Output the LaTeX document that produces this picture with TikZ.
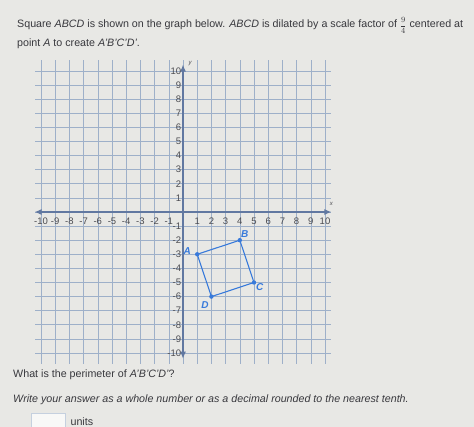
\documentclass[tikz,border=0pt]{standalone}
\usepackage{fontspec}
\setmainfont{Liberation Sans}
\usepackage{tikz}
\usetikzlibrary{arrows.meta}
\tikzset{>={Latex[length=7pt,width=6pt]}}
\definecolor{paper}{rgb}{0.91,0.91,0.90}
\definecolor{gridblue}{rgb}{0.62,0.69,0.79}
\definecolor{axisblue}{rgb}{0.38,0.47,0.63}
\definecolor{shapeblue}{rgb}{0.22,0.48,0.86}
\definecolor{ink}{rgb}{0.22,0.22,0.24}
\tikzset{
  txt/.style={anchor=base west,inner sep=0pt,text=ink,font=\fontsize{10.7}{12}\selectfont},
  tick/.style={inner sep=0pt,text=ink!90,font=\fontsize{9.5}{11}\selectfont},
  vlabel/.style={inner sep=0pt,text=shapeblue,font=\fontsize{10}{12}\selectfont\bfseries\itshape}
}

\begin{document}
\begin{tikzpicture}[x=1pt,y=-1pt]
  \fill[paper] (0,0) rectangle (474,427);
  \useasboundingbox (0,0) rectangle (474,427);
  % question text
  \node[txt] (q1) at (17,28) {Square \textit{ABCD} is shown on the graph below. \textit{ABCD} is dilated by a scale factor of {\fontsize{8}{9}\selectfont$\displaystyle\frac{9}{4}$} centered at};
  \node[txt] (q2) at (17,47) {point \textit{A} to create \textit{A'B'C'D'}.};
  \node[txt] (q3) at (13,378) {What is the perimeter of \textit{A'B'C'D'}?};
  \node[txt,font=\fontsize{10.7}{12}\selectfont\itshape] (q4) at (13,403) {Write your answer as a whole number or as a decimal rounded to the nearest tenth.};
  \node[draw=gridblue!60,fill=white!70!paper,minimum width=34pt,minimum height=16pt,inner sep=0pt,anchor=north west] (box) at (31,413) {};
  \node[txt,anchor=west] (units) at ([xshift=5pt]box.east) {units};
  % coordinate plane
  \begin{scope}[shift={(183pt,-212pt)},x=14.2pt,y=14.1pt]
    \draw[gridblue,line width=0.6pt,step=1] (-10.4,-10.75) grid (10.4,10.75);
    \draw[axisblue,<->,line width=1.1pt] (-10.45,0) -- (10.45,0);
    \draw[axisblue,<->,line width=1.1pt] (0,-10.4) -- (0,10.45);
    \node[tick,font=\fontsize{6}{7}\selectfont\itshape] (xl) at (10.45,0.6) {x};
    \node[tick,font=\fontsize{6}{7}\selectfont\itshape] (yl) at (0.5,10.5) {y};
    \foreach \i in {-10,...,-1,1,2,...,10} {
      \node[tick] (x\i) at (\i,-0.65) {\i};
      \node[tick,anchor=east] (y\i) at (-0.12,\i) {\i};
    }
    % square ABCD
    \coordinate (a) at (1,-3);
    \coordinate (b) at (4,-2);
    \coordinate (c) at (5,-5);
    \coordinate (d) at (2,-6);
    \draw[shapeblue,line width=1.1pt,line join=round] (a) -- (b) -- (c) -- (d) -- cycle;
    \foreach \p in {a,b,c,d}
      \fill[shapeblue] (\p) circle (2.2pt);
    \node[vlabel] (la) at (0.3,-2.75) {A};
    \node[vlabel] (lb) at (4.35,-1.6) {B};
    \node[vlabel] (lc) at (5.4,-5.3) {C};
    \node[vlabel] (ld) at (1.55,-6.6) {D};
  \end{scope}
\end{tikzpicture}
\end{document}
